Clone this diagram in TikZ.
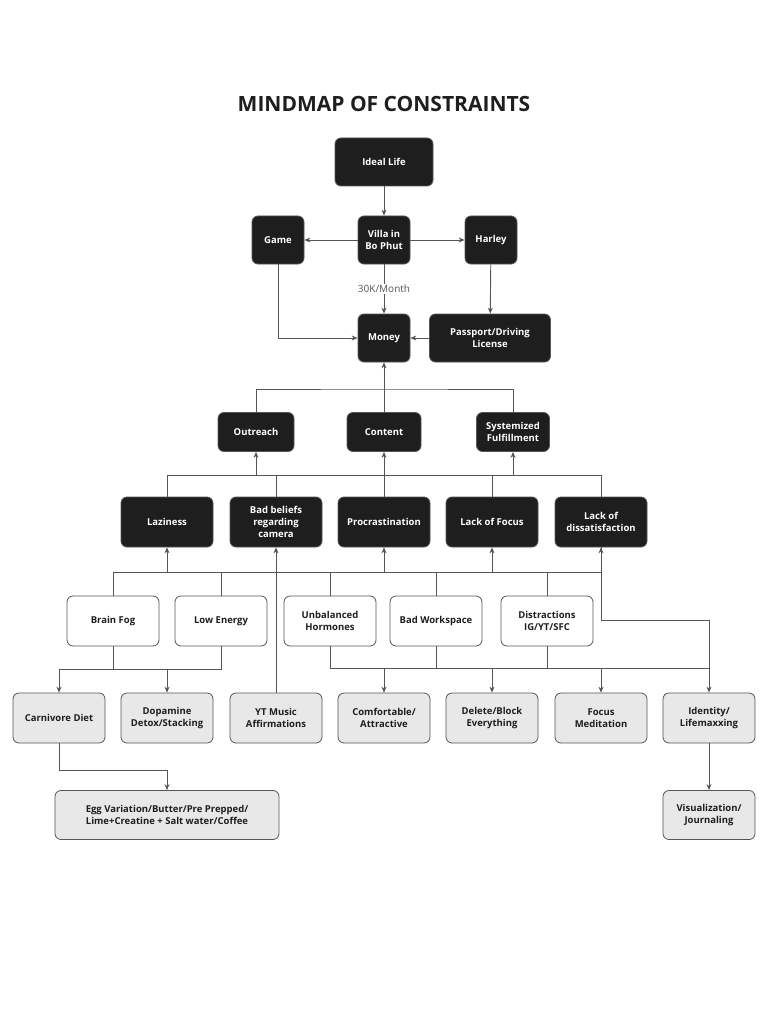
\documentclass[tikz,border=0pt]{standalone}
\usepackage{fontspec}
\setmainfont{Open Sans}
\usetikzlibrary{arrows.meta}
\definecolor{dk}{HTML}{1E1E1E}
\definecolor{ln}{HTML}{555555}
\definecolor{lg}{HTML}{E8E8E8}
\begin{document}
\begin{tikzpicture}[x=1pt,y=-1pt,
 box/.style={rounded corners=6pt,draw=ln,line width=0.8pt,align=center,font=\bfseries\fontsize{9.5}{12}\selectfont,inner sep=2pt},
 dark/.style={box,fill=dk,text=white},
 wb/.style={box,fill=white,text=dk},
 gb/.style={box,fill=lg,text=dk},
 c/.style={draw=ln,line width=0.9pt},
 a/.style={c,-{Stealth[length=6pt,width=5pt]}}]
\useasboundingbox (0,0) rectangle (768,1024);
\node[font=\bfseries\fontsize{21}{24}\selectfont,text=dk] (title) at (384,104) {MINDMAP OF CONSTRAINTS};
% row 0-1
\node[dark,minimum width=98pt,minimum height=48pt] (ideal) at (384,162) {Ideal Life};
\node[dark,minimum width=52pt,minimum height=48pt] (villa) at (384,240) {Villa in\\Bo Phut};
\node[dark,minimum width=52pt,minimum height=48pt] (game) at (278,240) {Game};
\node[dark,minimum width=52pt,minimum height=48pt] (harley) at (491,240) {Harley};
\node[dark,minimum width=52pt,minimum height=48pt] (money) at (384,338) {Money};
\node[dark,minimum width=121pt,minimum height=48pt] (pass) at (490,338) {Passport/Driving\\License};
% row 2
\node[dark,minimum width=76pt,minimum height=39pt] (out) at (256,432) {Outreach};
\node[dark,minimum width=74pt,minimum height=39pt] (cont) at (384,432) {Content};
\node[dark,minimum width=73pt,minimum height=39pt] (sys) at (513,432) {Systemized\\Fulfillment};
% row 3
\tikzset{r/.style={minimum width=92pt,minimum height=50pt}}
\node[dark,r] (laz) at (167,522) {Laziness};
\node[dark,r] (bad) at (276,522) {Bad beliefs\\regarding\\camera};
\node[dark,r] (pro) at (384,522) {Procrastination};
\node[dark,r] (foc) at (492,522) {Lack of Focus};
\node[dark,r] (dis) at (601,522) {Lack of\\dissatisfaction};
% row 4
\node[wb,r] (fog) at (113,621) {Brain Fog};
\node[wb,r] (low) at (221,621) {Low Energy};
\node[wb,r] (hor) at (330,621) {Unbalanced\\Hormones};
\node[wb,r] (work) at (436,621) {Bad Workspace};
\node[wb,r] (distr) at (547,621) {Distractions\\IG/YT/SFC};
% row 5
\node[gb,r] (carn) at (59,718) {Carnivore Diet};
\node[gb,r] (dopa) at (167,718) {Dopamine\\Detox/Stacking};
\node[gb,r] (yt) at (276,718) {YT Music\\Affirmations};
\node[gb,r] (comf) at (384,718) {Comfortable/\\Attractive};
\node[gb,r] (del) at (492,718) {Delete/Block\\Everything};
\node[gb,r] (fmed) at (601,718) {Focus\\Meditation};
\node[gb,r] (iden) at (709,718) {Identity/\\Lifemaxxing};
% row 6
\node[gb,minimum width=224pt,minimum height=49pt] (egg) at (167,815) {Egg Variation/Butter/Pre Prepped/\\Lime+Creatine + Salt water/Coffee};
\node[gb,minimum width=92pt,minimum height=49pt] (vis) at (709,815) {Visualization/\\Journaling};
% top connectors
\draw[a] (ideal) -- (villa);
\draw[a] (villa) -- (game);
\draw[a] (villa) -- (harley);
\draw[a] (villa) -- node[fill=white,font=\fontsize{10}{12}\selectfont,text=ln,inner sep=1pt]{30K/Month} (money);
\draw[a] (game.south) |- (money.west);
\draw[a] (harley) -- (pass);
\draw[a] (pass) -- (money);
% row2 -> money
\coordinate (b1) at (384,389);
\draw[c] (out.north) |- (b1) -| (sys.north);
\draw[c] (cont.north) -- (b1);
\draw[a] (b1) -- (money.south);
% row3 -> row2
\coordinate (b2l) at (167,475); \coordinate (b2r) at (601,475);
\draw[c] (b2l) -- (b2r);
\foreach \n in {laz,bad,pro,foc,dis} \draw[c] (\n.north) -- (\n.north |- b2l);
\draw[a] (out.south |- b2l) -- (out.south);
\draw[a] (cont.south |- b2l) -- (cont.south);
\draw[a] (sys.south |- b2l) -- (sys.south);
% row4 -> row3
\coordinate (b3l) at (113,572); \coordinate (b3r) at (601,572);
\draw[c] (b3l) -- (b3r);
\foreach \n in {fog,low,hor,work,distr} \draw[c] (\n.north) -- (\n.north |- b3l);
\foreach \n in {laz,pro,foc,dis} \draw[a] (\n.south |- b3l) -- (\n.south);
\draw[a] (yt.north) -- (bad.south);
\coordinate (t1) at (709,620);
\draw[a] (dis.south) |- (t1) -- (iden.north);
% row4 -> row5
\coordinate (b4a) at (59,669); \coordinate (b4b) at (221,669);
\draw[c] (fog.south) -- (fog.south |- b4a);
\draw[c] (low.south) -- (b4b) -- (b4a);
\draw[a] (b4a) -- (carn.north);
\draw[a] (dopa.north |- b4a) -- (dopa.north);
\coordinate (b5a) at (330,668); \coordinate (b5b) at (709,668);
\draw[c] (hor.south) -- (b5a) -- (b5b);
\draw[c] (work.south) -- (work.south |- b5a);
\draw[c] (distr.south) -- (distr.south |- b5a);
\foreach \n in {comf,del,fmed} \draw[a] (\n.north |- b5a) -- (\n.north);
% row5 -> row6
\coordinate (k) at (59,770);
\draw[a] (carn.south) -- (k) -| (egg.north);
\draw[a] (iden) -- (vis);
\end{tikzpicture}
\end{document}
